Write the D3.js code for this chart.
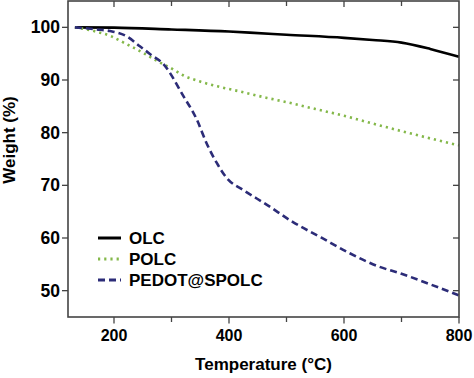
<html>
<head>
  <script src="https://d3js.org/d3.v7.min.js"></script>
  <style>
    body { margin: 0; background: #fff; }
    text { font-family: "Liberation Sans", Arial, sans-serif; font-weight: bold; fill: #000; }
    .frame { fill: none; stroke: #444; stroke-width: 1.6; }
    .ticks line { stroke: #444; stroke-width: 1.3; }
  </style>
</head>
<body>
<svg id="tga" width="474" height="378"></svg>
<script>
  // series data
  const olcT = [132, 200, 300, 400, 436, 500, 600, 650, 700, 750, 800];
  const olcW = [100, 99.95, 99.6, 99.2, 99.0, 98.6, 98.0, 97.6, 97.1, 95.9, 94.4];

  const polcT = [132, 165, 195, 222, 250, 275, 300, 320, 350, 380, 420, 466, 500, 550, 600, 668, 700, 750, 800];
  const polcW = [100, 99.3, 98.3, 96.8, 95.2, 93.6, 92.2, 90.9, 89.7, 88.8, 87.8, 86.6, 85.8, 84.5, 83.2, 81.2, 80.3, 78.9, 77.6];

  const pedotT = [132, 170, 193, 222, 245, 263, 286, 321, 344, 361, 379, 396, 425, 466, 510, 560, 610, 660, 700, 750, 800];
  const pedotW = [100, 99.6, 99.3, 98.3, 96.4, 94.9, 93, 86.9, 82.5, 78, 74.2, 71.4, 69.1, 66.3, 63.1, 60.1, 57.1, 54.6, 53.2, 51.2, 49.1];

  const seriesNames = ["OLC", "POLC", "PEDOT@SPOLC"];
  const xTicks = [200, 400, 600, 800];
  const xMinor = [300, 500, 700];
  const yTicks = [50, 60, 70, 80, 90, 100];

  const svg = d3.select("svg#tga");
  const margin = {top: 1, right: 15, bottom: 61, left: 68};
  const width = 474, height = 378;
  const chartWidth = width - margin.left - margin.right;
  const chartHeight = height - margin.top - margin.bottom;

  const xScale = d3.scaleLinear().domain([120, 800]).range([0, chartWidth]);
  const yScale = d3.scaleLinear().domain([45, 105]).range([chartHeight, 0]);

  const chart = svg.append("g").attr("transform", "translate(" + margin.left + "," + margin.top + ")");

  // ticks
  const ticks = chart.append("g").attr("class", "ticks");
  xTicks.concat(xMinor).forEach(t => {
    let x = xScale(t);
    let major = xTicks.includes(t);
    ticks.append("line").attr("x1", x).attr("x2", x).attr("y1", chartHeight).attr("y2", chartHeight + (major ? 6.5 : 5));
    if (t < 800) ticks.append("line").attr("x1", x).attr("x2", x).attr("y1", 0).attr("y2", major ? 6 : 5);
  });
  yTicks.forEach(t => {
    let y = yScale(t);
    ticks.append("line").attr("x1", -6).attr("x2", 0).attr("y1", y).attr("y2", y);
    ticks.append("line").attr("x1", chartWidth - 6).attr("x2", chartWidth).attr("y1", y).attr("y2", y);
  });

  // tick labels
  chart.selectAll(".xlab").data(xTicks).enter().append("text")
    .attr("x", d => xScale(d)).attr("y", chartHeight + 24)
    .attr("text-anchor", "middle").style("font-size", "16px").text(d => d);
  chart.selectAll(".ylab").data(yTicks).enter().append("text")
    .attr("x", -8).attr("y", d => yScale(d) + 6)
    .attr("text-anchor", "end").style("font-size", "17.5px").text(d => d);

  // axis titles
  svg.append("text").attr("x", margin.left + xScale(460)).attr("y", 370)
    .attr("text-anchor", "middle").style("font-size", "17px").text("Temperature (°C)");
  svg.append("text").attr("transform", "translate(15,140) rotate(-90)")
    .attr("text-anchor", "middle").style("font-size", "17px").text("Weight (%)");

  // lines
  const line = d3.line().x(d => xScale(d[0])).y(d => yScale(d[1])).curve(d3.curveMonotoneX);
  const series = [
    {name: seriesNames[0], pts: d3.zip(olcT, olcW), color: "#000000", dash: null, w: 2.6},
    {name: seriesNames[1], pts: d3.zip(polcT, polcW), color: "#84b84a", dash: "2.2,4", w: 2.6},
    {name: seriesNames[2], pts: d3.zip(pedotT, pedotW), color: "#2c2c78", dash: "7,4", w: 2.6}
  ];
  series.forEach(s => {
    chart.append("path").attr("d", line(s.pts))
      .attr("fill", "none").attr("stroke", s.color).attr("stroke-width", s.w)
      .attr("stroke-dasharray", s.dash);
  });

  // frame
  chart.append("rect").attr("class", "frame").attr("x", 0).attr("y", 0)
    .attr("width", chartWidth).attr("height", chartHeight);

  // legend
  series.forEach((s, i) => {
    let y = 238 + i * 21;
    svg.append("line").attr("x1", 98).attr("x2", 121).attr("y1", y).attr("y2", y)
      .attr("stroke", s.color).attr("stroke-width", 3).attr("stroke-dasharray", s.dash);
    svg.append("text").attr("x", 129).attr("y", y + 6).style("font-size", "17px").text(s.name);
  });
</script>
</body>
</html>
